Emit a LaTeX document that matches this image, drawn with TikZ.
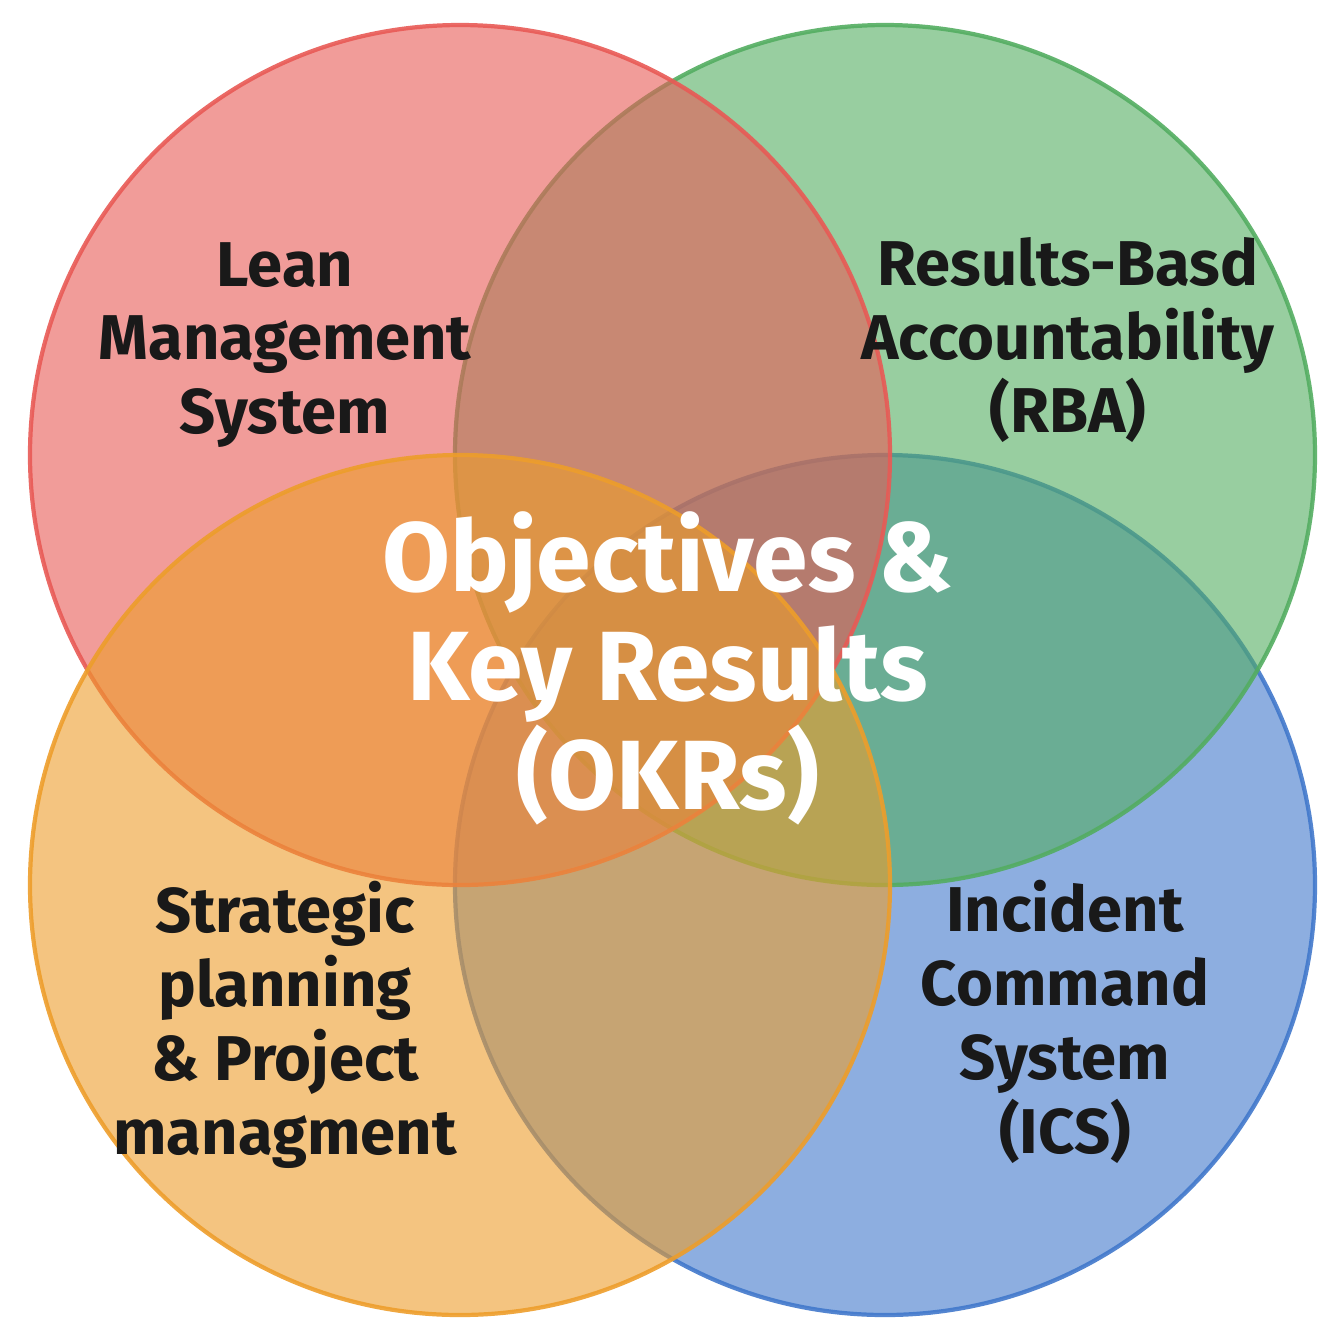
\documentclass[tikz,border=0pt]{standalone}
\usepackage{fontspec}
\setmainfont{Fira Sans}
\definecolor{leanred}{RGB}{232,90,85}
\definecolor{rbagreen}{RGB}{83,173,97}
\definecolor{planorange}{RGB}{237,157,43}
\definecolor{icsblue}{RGB}{65,120,203}
\begin{document}
\begin{tikzpicture}[x=0.01cm,y=-0.01cm,
	venn/.style={fill opacity=0.6, draw opacity=0.9, line width=1.2pt},
	label/.style={align=center, font=\fontsize{18}{21}\selectfont\bfseries, text=black!90},
	core/.style={align=center, font=\fontsize{28}{31}\selectfont\bfseries, text=white}]
	\useasboundingbox (0,0) rectangle (1343,1344);
	% circles
	\draw[venn, fill=icsblue, draw=icsblue] (885,885) circle (430);
	\draw[venn, fill=rbagreen, draw=rbagreen] (885,455) circle (430);
	\draw[venn, fill=leanred, draw=leanred] (460,455) circle (430);
	\draw[venn, fill=planorange, draw=planorange] (460,885) circle (430);
	% labels
	\node[label] (lean) at (285,345) {Lean\\Management\\System};
	\node[label] (rba) at (1068,340) {Results-Basd\\Accountability\\(RBA)};
	\node[label] (plan) at (285,1025) {Strategic\\planning\\\& Project\\managment};
	\node[label] (ics) at (1065,1022) {Incident\\Command\\System\\(ICS)};
	\node[core] (okr) at (668,668) {Objectives \&\\Key Results\\(OKRs)};
\end{tikzpicture}
\end{document}
